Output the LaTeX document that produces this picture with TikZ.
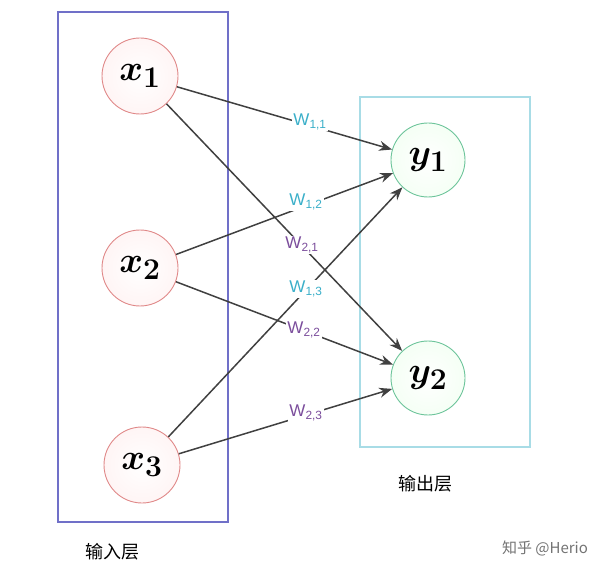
\documentclass[tikz,border=0pt]{standalone}
\usepackage{fontspec}
\usepackage{amsmath}
\usepackage{graphicx}
\newfontfamily\cjk{Noto Sans CJK SC}
\newfontfamily\lab{Liberation Sans}
\usetikzlibrary{arrows.meta}
\definecolor{cyanw}{HTML}{3AAFC9}
\definecolor{purw}{HTML}{7B4D9C}
\definecolor{redc}{HTML}{E08888}
\definecolor{greenc}{HTML}{6CC49A}
\definecolor{bluebox}{HTML}{7070C8}
\definecolor{cyanbox}{HTML}{A8DCE6}
\newcommand{\wl}[1]{W\textsubscript{#1}}
\newcommand{\neurlbl}[1]{\scalebox{1.45}{$\boldsymbol{#1}$}}
\tikzset{
 neuronin/.style={circle,draw=redc,line width=0.9pt,inner color=white,outer color=red!4,minimum size=76pt,inner sep=0pt,font=\Huge},
 neuronout/.style={circle,draw=greenc,line width=0.9pt,inner color=white,outer color=green!4,minimum size=74pt,inner sep=0pt,font=\Huge},
 conn/.style={draw=black!75,line width=1.5pt,-{Stealth[length=13pt,width=10pt]}},
 wc/.style={fill=white,inner sep=1pt,text=cyanw,font=\lab\fontsize{17}{18}\selectfont},
 wp/.style={fill=white,inner sep=1pt,text=purw,font=\lab\fontsize{17}{18}\selectfont},
 laycap/.style={font=\cjk\fontsize{18}{19}\selectfont}
}
\begin{document}
\begin{tikzpicture}[x=1pt,y=-1pt]
\useasboundingbox (0,0) rectangle (600,572);
\draw[bluebox,line width=1.4pt] (58,12) rectangle (228,522);
\draw[cyanbox,line width=1.4pt] (360,97) rectangle (530,447);
\node[neuronin] (x1) at (140,76) {\neurlbl{x_1}};
\node[neuronin] (x2) at (140,268) {\neurlbl{x_2}};
\node[neuronin] (x3) at (142,465) {\neurlbl{x_3}};
\node[neuronout] (y1) at (428,160) {\neurlbl{y_1}};
\node[neuronout] (y2) at (428,378) {\neurlbl{y_2}};
\draw[conn] (x1) -- (y1);
\draw[conn] (x1) -- (y2);
\draw[conn] (x2) -- (y1);
\draw[conn] (x2) -- (y2);
\draw[conn] (x3) -- (y1);
\draw[conn] (x3) -- (y2);
\node[wc] (w11) at (310,122) {\wl{1,1}};
\node[wc] (w12) at (306,202) {\wl{1,2}};
\node[wp] (w21) at (302,245) {\wl{2,1}};
\node[wc] (w13) at (306,289) {\wl{1,3}};
\node[wp] (w22) at (304,330) {\wl{2,2}};
\node[wp] (w23) at (306,413) {\wl{2,3}};
\node[laycap] (lin) at (112,552) {输入层};
\node[laycap] (lout) at (425,484) {输出层};
\node[font=\cjk\fontsize{15}{16}\selectfont,text=black!55] (wm) at (545,548) {知乎 @Herio};
\end{tikzpicture}
\end{document}
